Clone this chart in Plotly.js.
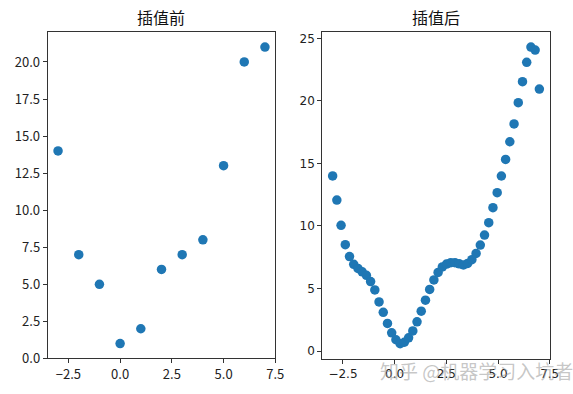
<!DOCTYPE html>
<html>
<head>
<meta charset="utf-8">
<script src="https://cdn.plot.ly/plotly-3.0.1.min.js"></script>
<style>html,body{margin:0;padding:0;background:#fff;}#chart{width:573px;height:394px;}</style>
</head>
<body>
<div id="chart"></div>
<script>
// Original samples (before interpolation)
const xBefore = [-3, -2, -1, 0, 1, 2, 3, 4, 5, 6, 7];
const yBefore = [14, 7, 5, 1, 2, 6, 7, 8, 13, 20, 21];

// Interpolated samples
const xAfter = [-3.000, -2.796, -2.592, -2.388, -2.184, -1.980, -1.776, -1.571, -1.367, -1.163,
  -0.959, -0.755, -0.551, -0.347, -0.143, 0.061, 0.265, 0.469, 0.673, 0.878,
  1.082, 1.286, 1.490, 1.694, 1.898, 2.102, 2.306, 2.510, 2.714, 2.918,
  3.122, 3.327, 3.531, 3.735, 3.939, 4.143, 4.347, 4.551, 4.755, 4.959,
  5.163, 5.367, 5.571, 5.776, 5.980, 6.184, 6.388, 6.592, 6.796, 7.000];
const yAfter = [14.0, 12.07, 10.05, 8.5, 7.55, 6.93, 6.6, 6.33, 6.05, 5.55,
  4.88, 3.92, 3.09, 2.2, 1.45, 0.9, 0.58, 0.7, 1.05, 1.6,
  2.33, 3.18, 4.06, 4.92, 5.68, 6.28, 6.72, 6.95, 7.06, 7.06,
  6.97, 6.88, 7.0, 7.3, 7.8, 8.47, 9.27, 10.26, 11.46, 12.66,
  13.99, 15.32, 16.73, 18.15, 19.85, 21.53, 23.08, 24.3, 24.06, 20.94];

const titleLeft = '插值前';
const titleRight = '插值后';
const watermark = '知乎 @机器学习入坑者';
const xTicks = [-2.5, 0, 2.5, 5, 7.5];

const W = 573, H = 394;
const px = v => v / W;
const py = v => 1 - v / H;

const markerStyle = {color: '#1f77b4', size: 9.5, line: {width: 0}};

const traces = [
  {x: xBefore, y: yBefore, type: 'scatter', mode: 'markers', marker: markerStyle, xaxis: 'x', yaxis: 'y', hoverinfo: 'skip'},
  {x: xAfter, y: yAfter, type: 'scatter', mode: 'markers', marker: markerStyle, xaxis: 'x2', yaxis: 'y2', hoverinfo: 'skip'}
];

const axisBase = {
  showgrid: false, zeroline: false, showline: true, mirror: true,
  linecolor: '#333', linewidth: 1, ticks: 'outside', ticklen: 4, tickwidth: 1,
  tickcolor: '#333', automargin: false, fixedrange: true
};
const leftFont = {family: '"Noto Sans CJK SC", "DejaVu Sans", sans-serif', size: 13, color: '#222'};
const rightFont = {family: '"DejaVu Sans", sans-serif', size: 12, color: '#222'};

const layout = {
  width: W, height: H,
  margin: {l: 0, r: 0, t: 0, b: 0},
  paper_bgcolor: '#fff', plot_bgcolor: '#fff',
  showlegend: false,
  xaxis: Object.assign({}, axisBase, {domain: [px(47.7), px(275.3)], range: [-3.5, 7.5], tickvals: xTicks, tickformat: '.1f', anchor: 'y', tickfont: leftFont}),
  yaxis: Object.assign({}, axisBase, {domain: [py(358.4), py(32.3)], range: [0, 22], dtick: 2.5, tick0: 0, tickformat: '.1f', anchor: 'x', tickfont: leftFont}),
  xaxis2: Object.assign({}, axisBase, {domain: [px(322.3), px(549.7)], range: [-3.5, 7.5], tickvals: xTicks, tickformat: '.1f', anchor: 'y2', tickfont: rightFont}),
  yaxis2: Object.assign({}, axisBase, {domain: [py(359), py(32.3)], range: [-0.64, 25.48], dtick: 5, tick0: 0, anchor: 'x2', tickfont: rightFont}),
  annotations: [
    {text: titleLeft, xref: 'paper', yref: 'paper', x: px(161.5), y: py(17.5), xanchor: 'center', yanchor: 'middle', showarrow: false,
     font: {family: '"Noto Sans CJK SC", sans-serif', size: 16, color: '#111'}},
    {text: titleRight, xref: 'paper', yref: 'paper', x: px(436), y: py(17.5), xanchor: 'center', yanchor: 'middle', showarrow: false,
     font: {family: '"Noto Sans CJK SC", sans-serif', size: 16, color: '#111'}},
    {text: watermark, xref: 'paper', yref: 'paper', x: px(476), y: py(370), xanchor: 'center', yanchor: 'middle', showarrow: false,
     font: {family: '"Noto Sans CJK SC", sans-serif', size: 19, color: 'rgba(150,150,150,0.55)'}}
  ]
};

Plotly.newPlot('chart', traces, layout, {staticPlot: true, displayModeBar: false});
</script>
</body>
</html>
